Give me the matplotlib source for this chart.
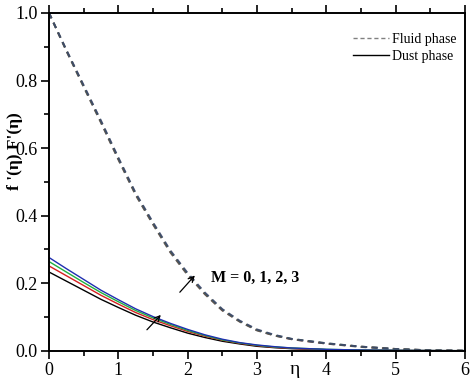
import matplotlib
matplotlib.use("Agg")
import matplotlib.pyplot as plt
from matplotlib.ticker import MultipleLocator
from matplotlib.lines import Line2D

plt.rcParams['font.family'] = ['Liberation Serif', 'DejaVu Serif']
plt.rcParams['mathtext.fontset'] = 'stix'

eta = [0, 0.25, 0.5, 0.75, 1.0, 1.25, 1.5, 1.75, 2.0, 2.25, 2.5, 2.75,
       3.0, 3.25, 3.5, 4.0, 4.5, 5.0, 5.5, 6.0]

# Fluid phase f'(eta) for M = 0, 1, 2, 3
fluid_M0 = [1.0, 0.888, 0.781, 0.675, 0.566, 0.461, 0.374, 0.291, 0.224, 0.167,
            0.119, 0.086, 0.060, 0.045, 0.034, 0.021, 0.011, 0.005, 0.001, 0.0]
fluid_M1 = [1.0, 0.889, 0.783, 0.677, 0.568, 0.463, 0.376, 0.293, 0.226, 0.168,
            0.120, 0.087, 0.061, 0.045, 0.034, 0.021, 0.012, 0.005, 0.001, 0.0]
fluid_M2 = [1.0, 0.890, 0.784, 0.679, 0.570, 0.465, 0.378, 0.295, 0.228, 0.170,
            0.122, 0.088, 0.062, 0.046, 0.035, 0.022, 0.012, 0.005, 0.001, 0.0]
fluid_M3 = [1.0, 0.891, 0.786, 0.681, 0.572, 0.467, 0.380, 0.297, 0.230, 0.172,
            0.123, 0.089, 0.063, 0.047, 0.035, 0.022, 0.012, 0.005, 0.001, 0.0]

# Dust phase F'(eta) for M = 0, 1, 2, 3
dust_M0 = [0.233, 0.206, 0.179, 0.152, 0.128, 0.105, 0.085, 0.068, 0.052, 0.039,
           0.028, 0.020, 0.013, 0.009, 0.006, 0.003, 0.001, 0.0005, 0.0002, 0.0]
dust_M1 = [0.251, 0.222, 0.193, 0.164, 0.138, 0.113, 0.092, 0.074, 0.057, 0.043,
           0.031, 0.022, 0.015, 0.010, 0.007, 0.003, 0.0015, 0.0007, 0.0003, 0.0]
dust_M2 = [0.264, 0.233, 0.202, 0.172, 0.145, 0.119, 0.097, 0.078, 0.060, 0.045,
           0.032, 0.023, 0.016, 0.011, 0.008, 0.004, 0.002, 0.001, 0.0004, 0.0]
dust_M3 = [0.276, 0.243, 0.211, 0.179, 0.151, 0.124, 0.101, 0.081, 0.063, 0.047,
           0.034, 0.024, 0.017, 0.012, 0.008, 0.004, 0.002, 0.001, 0.0004, 0.0]

colors = ['black', '#d62020', '#20b040', '#1f2fb0']
fluid_colors = ['#333333', '#7a4040', '#407a50', '#3a4070']
fluid = [fluid_M0, fluid_M1, fluid_M2, fluid_M3]
dust = [dust_M0, dust_M1, dust_M2, dust_M3]

fig = plt.figure(figsize=(4.74, 3.80), dpi=100)
ax = fig.add_axes([0.1034, 0.0771, 0.8776, 0.8887])

for f, c in zip(fluid, fluid_colors):
    ax.plot(eta, f, color=c, lw=1.4, ls=(0, (3, 2.5)), alpha=0.75)
for d, c in zip(dust, colors):
    ax.plot(eta, d, color=c, lw=1.0)

ax.set_xlim(0, 6)
ax.set_ylim(0, 1.0)
ax.xaxis.set_major_locator(MultipleLocator(1))
ax.xaxis.set_minor_locator(MultipleLocator(0.5))
ax.yaxis.set_minor_locator(MultipleLocator(0.1))
ax.set_yticks([0.0, 0.2, 0.4, 0.6, 0.8, 1.0])
ax.set_yticklabels(['0.0', '0.2', '0.4', '0.6', '0.8', '1.0'])

ax.tick_params(axis='x', which='both', direction='out', top=True, bottom=True,
               labelsize=13, width=1.2, pad=2)
ax.tick_params(axis='y', which='both', direction='out', left=True, right=False,
               labelsize=13, width=1.2, pad=2)
ax.tick_params(which='major', length=6)
ax.tick_params(which='minor', length=3.5)
for s in ax.spines.values():
    s.set_linewidth(1.4)

ax.set_ylabel("f '(η) F'(η)", fontsize=12.5, fontweight='bold')
ax.yaxis.set_label_coords(-0.062, 0.59)
ax.text(3.55, -0.055, 'η', fontsize=14, ha='center', va='center',
        transform=ax.get_xaxis_transform())

ax.annotate('', xy=(2.13, 0.229), xytext=(1.86, 0.167),
            arrowprops=dict(arrowstyle='->', lw=0.9, color='black'))
ax.annotate('', xy=(1.64, 0.112), xytext=(1.385, 0.056),
            arrowprops=dict(arrowstyle='->', lw=0.9, color='black'))
ax.text(2.33, 0.215, 'M = 0, 1, 2, 3', fontsize=11.5, fontweight='bold',
        ha='left', va='center')

handles = [Line2D([], [], color='gray', lw=1.0, ls=(0, (3, 2))),
           Line2D([], [], color='black', lw=1.0)]
ax.legend(handles, ['Fluid phase', 'Dust phase'], loc='upper right',
          bbox_to_anchor=(1.0, 0.965), frameon=False, fontsize=10,
          handlelength=2.6, handletextpad=0.2, labelspacing=0.25,
          borderaxespad=0.2)

fig.savefig('out.png', dpi=100)
